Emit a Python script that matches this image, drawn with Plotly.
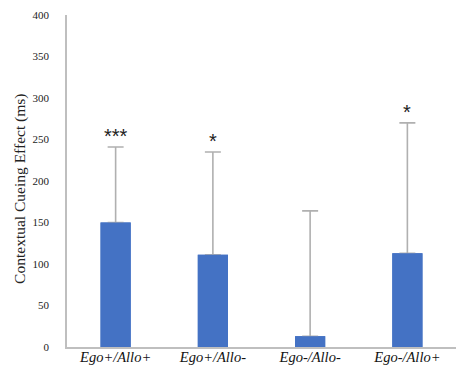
import plotly.graph_objects as go

categories = ["Ego+/Allo+", "Ego+/Allo-", "Ego-/Allo-", "Ego-/Allo+"]
means = [150, 111, 13, 113]
upper_err = [91, 124, 151, 157]
significance = ["***", "*", "", "*"]
y_ticks = [0, 50, 100, 150, 200, 250, 300, 350, 400]

SERIF = "Liberation Serif, Times New Roman, serif"

fig = go.Figure()
fig.add_trace(go.Bar(
    x=categories, y=means,
    marker=dict(color="#4472C4", line=dict(width=0)),
    width=0.31,
    error_y=dict(type="data", array=upper_err, symmetric=False,
                 arrayminus=[0] * len(means),
                 color="#B0B0B0", thickness=1.6, width=8),
))
fig.add_trace(go.Bar(
    x=categories, y=means,
    marker=dict(color="#4472C4", line=dict(width=0)),
    width=0.31,
))

for c, m, e, s in zip(categories, means, upper_err, significance):
    if s:
        fig.add_annotation(x=c, y=m + e, text=s, showarrow=False,
                           yanchor="bottom", yshift=-2,
                           font=dict(family="Liberation Sans, Arial", size=20, color="#222222"))

fig.add_annotation(
    text="Contextual Cueing Effect (ms)", textangle=-90,
    xref="paper", yref="paper", x=-0.121, y=0.476,
    xanchor="center", yanchor="middle", showarrow=False,
    font=dict(family=SERIF, size=15.5, color="#222222"),
)

fig.update_layout(
    width=458, height=367,
    margin=dict(l=59, r=10, t=7, b=28),
    plot_bgcolor="white", paper_bgcolor="white",
    showlegend=False, barmode="overlay",
    font=dict(family=SERIF, color="#222222"),
)
fig.update_xaxes(
    showline=True, linecolor="#BFBFBF", linewidth=1.5,
    showgrid=False, ticks="", automargin=False,
    tickfont=dict(family=SERIF, size=14.5, style="italic", color="#111111"),
    ticklabelstandoff=-4,
)
fig.update_yaxes(
    range=[0, 400], tickvals=y_ticks,
    showline=True, linecolor="#BFBFBF", linewidth=1.5,
    showgrid=False, ticks="", zeroline=False, automargin=False,
    tickfont=dict(family=SERIF, size=11, color="#222222"),
    ticklabelstandoff=14,
)

fig.write_html("out.html")
